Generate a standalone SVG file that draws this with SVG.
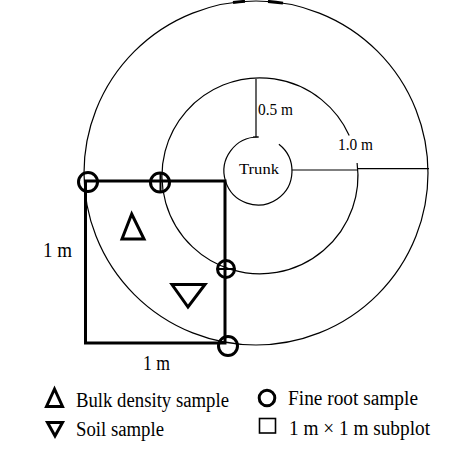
<svg xmlns="http://www.w3.org/2000/svg" width="474" height="451" viewBox="0 0 474 451">
<style>
.thin{fill:none;stroke:#000;stroke-width:1.2}
.thick{fill:none;stroke:#000;stroke-width:3}
.mark{fill:none;stroke:#000;stroke-width:3}
text{font-family:"Liberation Serif","Times New Roman",serif;fill:#000}
.lbl{font-size:20px}
.sm{font-size:17px}
</style>
<rect width="474" height="451" fill="#fff"/>
<g id="rings">
<circle class="thin" cx="256" cy="173" r="172"/>
<path class="thick" d="M233 2.54 A172 172 0 0 1 245 1.35"/>
<path class="thick" d="M268 1.42 A172 172 0 0 1 283 3.13"/>
<path class="thin" d="M357.1 163 A98 98 0 1 1 349.2 135.4"/>
</g>
<g id="trunk">
<path class="thin" d="M278.9 144.2 A34 34 0 1 1 258 137"/>
<text x="239" y="174" font-size="14.5" textLength="40" lengthAdjust="spacingAndGlyphs">Trunk</text>
</g>
<g id="connectors">
<path class="thin" d="M256 79 L256 137 M253 137 L259 137"/>
<path class="thin" d="M292 170 L358 170 M358 168.7 L429 168.7"/>
<text class="sm" x="258" y="115" textLength="35" lengthAdjust="spacingAndGlyphs">0.5 m</text>
<text class="sm" x="338" y="150" textLength="35" lengthAdjust="spacingAndGlyphs">1.0 m</text>
</g>
<g id="subplot">
<path class="thick" d="M85.5 181 L225 181 L225 343 L85.5 343 Z"/>
<text class="lbl" x="43" y="257" textLength="29" lengthAdjust="spacingAndGlyphs">1 m</text>
<text class="lbl" x="143" y="370" textLength="27" lengthAdjust="spacingAndGlyphs">1 m</text>
</g>
<g id="fine-roots">
<circle class="mark" cx="88" cy="182" r="9.5"/>
<circle class="mark" cx="160" cy="182.5" r="9.5"/>
<line x1="160.5" y1="173" x2="160.5" y2="192" stroke="#000" stroke-width="2"/>
<circle class="mark" cx="226" cy="269" r="8.5"/>
<line x1="217" y1="269" x2="235" y2="269" stroke="#000" stroke-width="2"/>
<circle class="mark" cx="228" cy="346" r="9.5"/>
</g>
<g id="bulk-density">
<path class="mark" d="M131.7 214 L122 239 L144 239 Z"/>
</g>
<g id="soil">
<path class="mark" d="M172 284.5 L205 284.5 L188 307 Z"/>
</g>
<g id="legend">
<path class="mark" d="M54.5 389 L46.5 406.5 L62.5 406.5 Z"/>
<text class="lbl" x="76" y="407" textLength="153" lengthAdjust="spacingAndGlyphs">Bulk density sample</text>
<path class="mark" d="M47.5 422.5 L62.5 422.5 L55 436 Z"/>
<text class="lbl" x="76" y="435.5" textLength="88" lengthAdjust="spacingAndGlyphs">Soil sample</text>
<circle class="mark" cx="267" cy="398" r="7.8"/>
<text class="lbl" x="288" y="405" textLength="130" lengthAdjust="spacingAndGlyphs">Fine root sample</text>
<rect x="259.5" y="418.5" width="16" height="14.5" fill="none" stroke="#000" stroke-width="1.6"/>
<text class="lbl" x="289" y="435" textLength="141" lengthAdjust="spacingAndGlyphs">1 m × 1 m subplot</text>
</g>
</svg>
